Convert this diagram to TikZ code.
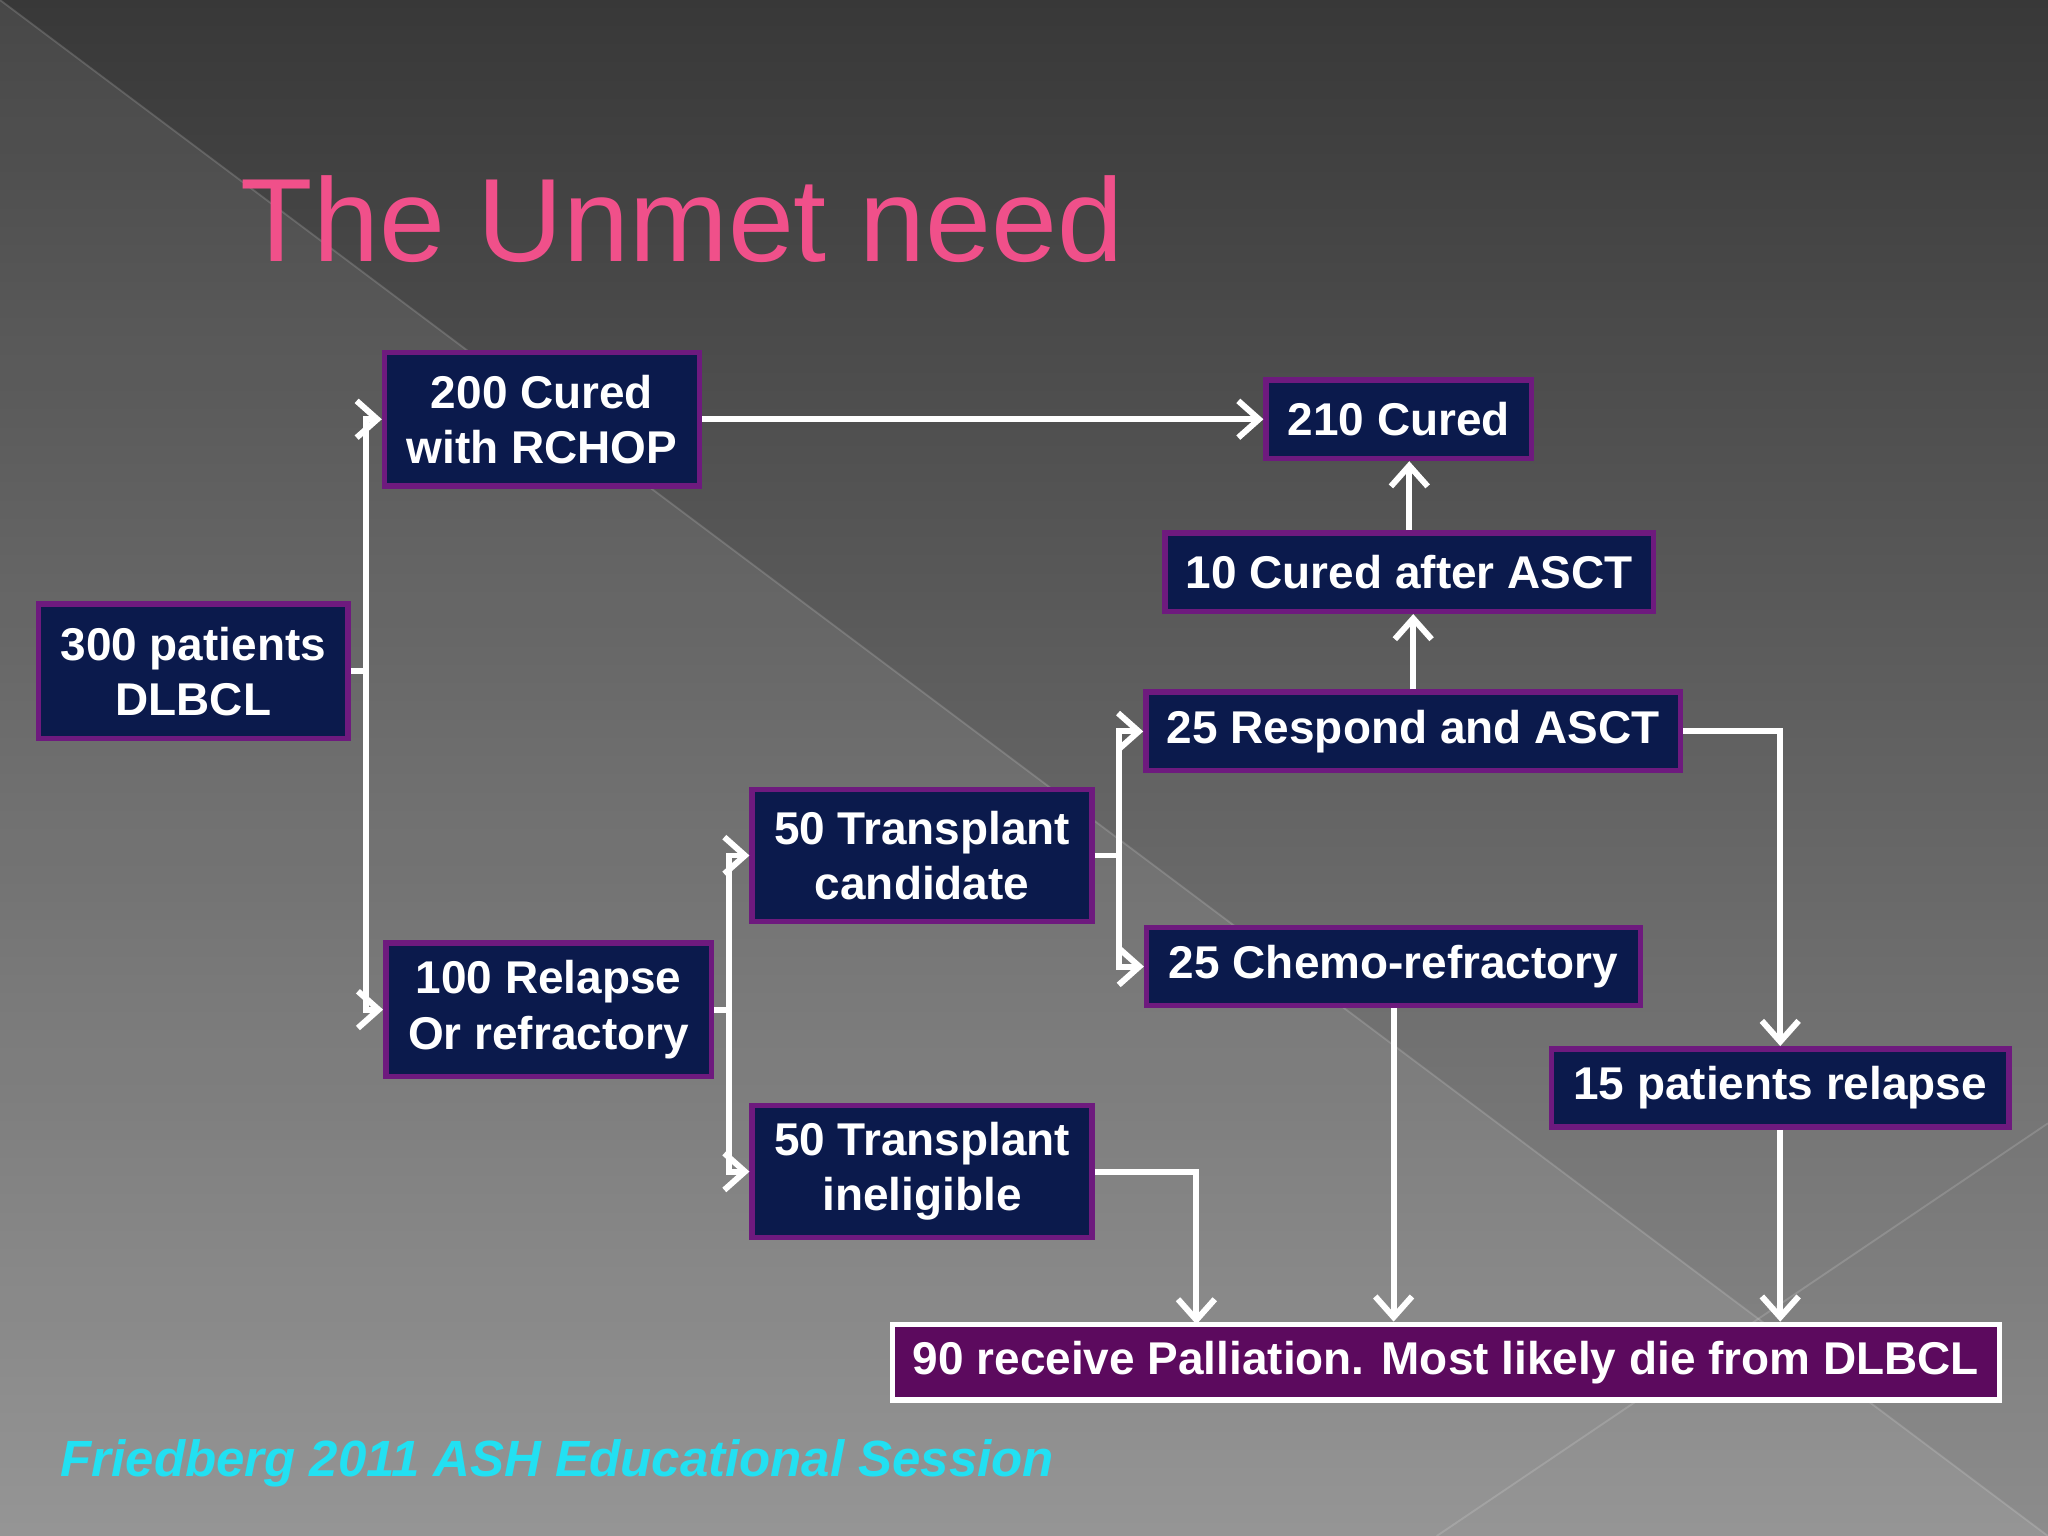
\documentclass[tikz,border=0pt]{standalone}
\usepackage{fontspec}
\setmainfont{Liberation Sans}
\usetikzlibrary{arrows.meta}
\definecolor{boxblue}{HTML}{0B1A4C}
\definecolor{boxpurple}{HTML}{6E1A7E}
\definecolor{palpurple}{HTML}{5C0A5E}
\definecolor{titlepink}{HTML}{F0508A}
\definecolor{refcyan}{HTML}{22E0F2}
\tikzset{
  bx/.style={draw=boxpurple, line width=1.2pt, fill=boxblue, text=white, font=\bfseries\fontsize{10}{12}\selectfont, align=center, inner sep=0pt},
  pal/.style={draw=white, line width=1.2pt, fill=palpurple, text=white, font=\bfseries\fontsize{10}{12}\selectfont, align=center, inner sep=0pt},
  ln/.style={draw=white, line width=1.3pt},
  ar/.style={ln, -{Straight Barb[length=4.5pt,width=8pt,line width=1.3pt]}}
}
\begin{document}
\begin{tikzpicture}[x=0.01cm,y=-0.01cm]
\useasboundingbox (0,0) rectangle (1568,1176);
\shade[top color=black!78!white, bottom color=black!45!white] (0,0) rectangle (1568,1176);
\fill[white, opacity=0.08] (0,0) -- (1568,1176) -- (0,1176) -- cycle;
\draw[white, opacity=0.15] (0,0) -- (1568,1176);
\draw[white, opacity=0.15] (1568,860) -- (1100,1176);
\node[anchor=west, text=titlepink, font=\fontsize{25.8}{30}\selectfont] (title) at (172,168) {The Unmet need};
\node[bx, minimum width=2.37cm, minimum height=1.03cm] (p300) at (148,514) {300 patients\\DLBCL};
\node[bx, minimum width=2.41cm, minimum height=1.02cm] (c200) at (415,321) {200 Cured\\with RCHOP};
\node[bx, minimum width=2.49cm, minimum height=1.02cm] (r100) at (420,773) {100 Relapse\\Or refractory};
\node[bx, minimum width=2.6cm, minimum height=1.01cm] (cand) at (706,655) {50 Transplant\\candidate};
\node[bx, minimum width=2.6cm, minimum height=1.01cm] (inel) at (706,897) {50 Transplant\\ineligible};
\node[bx, minimum width=4.09cm, minimum height=0.6cm] (resp) at (1082,560) {25 Respond and ASCT};
\node[bx, minimum width=3.78cm, minimum height=0.6cm] (chemo) at (1067,740) {25 Chemo-refractory};
\node[bx, minimum width=3.74cm, minimum height=0.6cm] (c10) at (1079,438) {10 Cured after ASCT};
\node[bx, minimum width=2.03cm, minimum height=0.6cm] (c210) at (1071,321) {210 Cured};
\node[bx, minimum width=3.5cm, minimum height=0.6cm] (rel15) at (1363,833) {15 patients relapse};
\node[pal, minimum width=8.47cm, minimum height=0.58cm] (pall) at (1107,1043) {90 receive Palliation. Most likely die from DLBCL};
\node[anchor=west, text=refcyan, font=\bfseries\itshape\fontsize{11.1}{13}\selectfont] (ref) at (34,1120) {Friedberg 2011 ASH Educational Session};
% splits
\coordinate (s1) at (280,514);
\draw[ln] (p300.east) -- (s1);
\draw[ar] (s1) |- (c200.west);
\draw[ar] (s1) |- (r100.west);
\coordinate (s2) at (558,773);
\draw[ln] (r100.east) -- (s2);
\draw[ar] (s2) |- (cand.west);
\draw[ar] (s2) |- (inel.west);
\coordinate (s3) at (857,655);
\draw[ln] (cand.east) -- (s3);
\draw[ar] (s3) |- (resp.west);
\draw[ar] (s3) |- (chemo.west);
% others
\draw[ar] (c200.east) -- (c210.west);
\draw[ar] (c10.north) -- (c210.south -| c10.north);
\draw[ar] (resp.north) -- (c10.south -| resp.north);
\draw[ar] (resp.east) -| (rel15.north);
\draw[ar] (inel.east) -| (916,1014);
\draw[ar] (chemo.south) -- (chemo.south |- pall.north);
\draw[ar] (rel15.south) -- (rel15.south |- pall.north);
\end{tikzpicture}
\end{document}
